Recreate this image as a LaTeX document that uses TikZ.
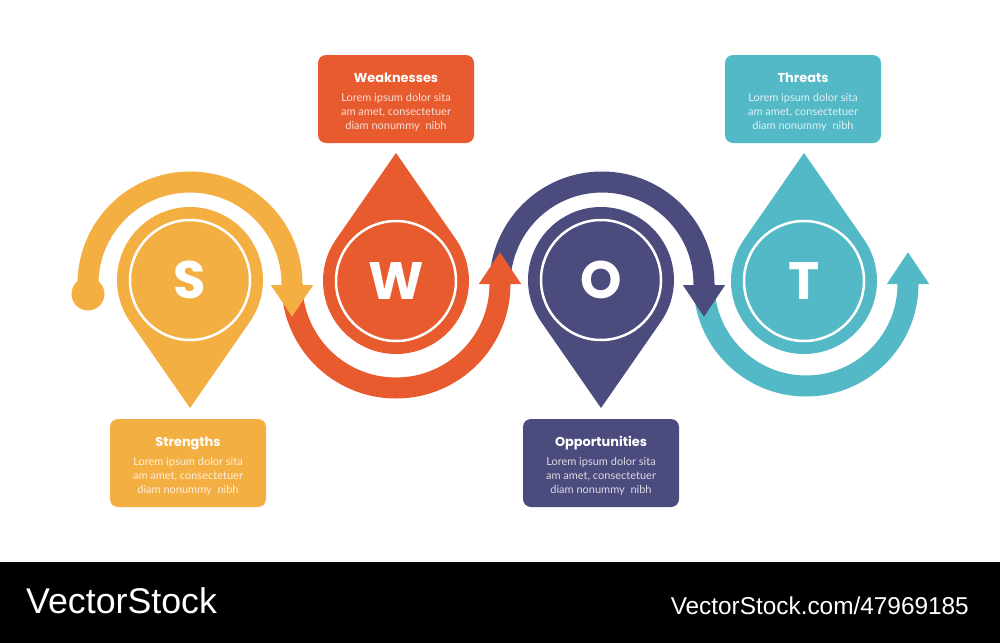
\documentclass[tikz,border=0pt]{standalone}
\usepackage{fontspec}
\usetikzlibrary{arrows.meta,calc}
\newfontfamily\poppins{Poppins}
\newfontfamily\lato{Lato}
\newfontfamily\arial{Liberation Sans}
\definecolor{swotyellow}{HTML}{F4AF42}
\definecolor{swotorange}{HTML}{E75B2F}
\definecolor{swotpurple}{HTML}{4B4B7E}
\definecolor{swotteal}{HTML}{54B9C6}
\newcommand{\boxtitle}[1]{{\color{white}\poppins\bfseries\fontsize{11}{14}\selectfont\rule{0pt}{13.5pt}#1}\\[4.5pt]}
\begin{document}
\begin{tikzpicture}[x=0.3mm,y=0.3mm,
	band/.style={line width=6.3mm},
	arrowtip/.style={-{Triangle[width=12mm,length=9.6mm]}},
	ring/.style={draw=white, line width=0.75mm},
	letter/.style={text=white, font=\poppins\bfseries\fontsize{45}{45}\selectfont},
	infobox/.style={fill=#1, text=white!80!#1, rounded corners=2.4mm, minimum width=46.8mm, minimum height=26.4mm, align=center, inner sep=0pt, font=\lato\fontsize{9.4}{12}\selectfont}]
		\fill[white] (0,0) rectangle (1000,-643);
		\useasboundingbox (0,0) rectangle (1000,-643);
		% centres of the four markers
		\coordinate (S) at (190,-280);
		\coordinate (W) at (396,-281);
		\coordinate (O) at (601,-280);
		\coordinate (T) at (804,-281);
		% bands, back to front
		\draw[band, arrowtip, swotteal] (704,-284) arc[start angle=180, end angle=360, radius=102] -- ++(0,32);
		\draw[band, arrowtip, swotpurple] (500,-284) arc[start angle=180, end angle=0, radius=102] -- ++(0,-33);
		\draw[band, arrowtip, swotorange] (292,-284) arc[start angle=180, end angle=360, radius=104] -- ++(0,32);
		\fill[swotyellow] (88,-294) circle[radius=16.5];
		\draw[band, arrowtip, swotyellow] (88,-294) -- (88,-284) arc[start angle=180, end angle=0, radius=102] -- ++(0,-33);
		% pins and drops
		\fill[swotyellow] ($(S)+(0,-128)$) -- ($(S)+(214.77:73)$) arc[start angle=214.77, end angle=-34.77, radius=73] -- cycle;
		\fill[swotorange] ($(W)+(0,128)$) -- ($(W)+(145.23:73)$) arc[start angle=145.23, end angle=394.77, radius=73] -- cycle;
		\fill[swotpurple] ($(O)+(0,-128)$) -- ($(O)+(214.77:73)$) arc[start angle=214.77, end angle=-34.77, radius=73] -- cycle;
		\fill[swotteal] ($(T)+(0,128)$) -- ($(T)+(145.23:73)$) arc[start angle=145.23, end angle=394.77, radius=73] -- cycle;
		\draw[ring] (S) circle[radius=60];
		\draw[ring] (W) circle[radius=60];
		\draw[ring] (O) circle[radius=60];
		\draw[ring] (T) circle[radius=60];
		\node[letter] (sletter) at (S) {S};
		\node[letter] (wletter) at (W) {W};
		\node[letter] (oletter) at (O) {O};
		\node[letter] (tletter) at (T) {T};
		% text boxes
		\node[infobox=swotyellow] (strengths) at (188,-463) {\boxtitle{Strengths}Lorem ipsum dolor sita\\am amet, consectetuer\\diam nonummy~ nibh};
		\node[infobox=swotorange] (weaknesses) at (396,-99) {\boxtitle{Weaknesses}Lorem ipsum dolor sita\\am amet, consectetuer\\diam nonummy~ nibh};
		\node[infobox=swotpurple] (opportunities) at (601,-463) {\boxtitle{Opportunities}Lorem ipsum dolor sita\\am amet, consectetuer\\diam nonummy~ nibh};
		\node[infobox=swotteal] (threats) at (803,-99) {\boxtitle{Threats}Lorem ipsum dolor sita\\am amet, consectetuer\\diam nonummy~ nibh};
		% footer
		\fill[black] (0,-562) rectangle (1000,-643);
		\node[anchor=base west, inner sep=0pt, text=white, font=\arial\fontsize{30.5}{31}\selectfont] (brand) at (26,-613) {VectorStock};
		\node[anchor=base east, inner sep=0pt, text=white, font=\arial\fontsize{20.8}{21}\selectfont] (brandurl) at (969,-614) {VectorStock.com/47969185};
	\end{tikzpicture}
\end{document}
